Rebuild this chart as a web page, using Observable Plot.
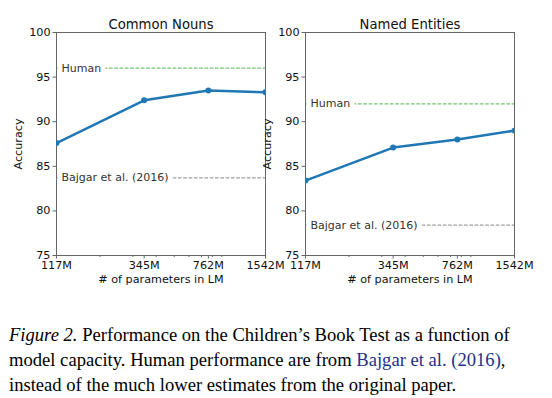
<!DOCTYPE html>
<html><head><meta charset="utf-8">
<script src="https://cdn.jsdelivr.net/npm/d3@7"></script>
<script src="https://cdn.jsdelivr.net/npm/@observablehq/plot@0.6"></script>
<style>
body{margin:0;background:#fff;width:552px;height:398px;overflow:hidden;position:relative;}
.panel{position:absolute;top:0;}
#p1{left:0}
#p2{left:249px}
#cap{position:absolute;left:9px;top:322px;white-space:nowrap;font-family:"Liberation Serif","Times New Roman",serif;font-size:18.6px;line-height:25px;color:#000;}
#cap .cite{color:#23308a;}
</style></head><body>
<div id="p1" class="panel"></div><div id="p2" class="panel"></div>
<div id="cap"><i>Figure 2.</i> Performance on the Children’s Book Test as a function of<br>model capacity. Human performance are from <span class="cite">Bajgar et al. (2016)</span>,<br>instead of the much lower estimates from the original paper.</div>
<script>
const paramLabels = ["117M", "345M", "762M", "1542M"];
const paramValues = [117, 345, 762, 1542];
const minorTicks = [200, 300, 400, 500, 600, 700, 800, 900];
const yTicks = [75, 80, 85, 90, 95, 100];
const titles = ["Common Nouns", "Named Entities"];
const commonNouns = [87.6, 92.4, 93.5, 93.3];
const namedEntities = [83.4, 87.1, 88.0, 89.0];
const humanScores = [96.0, 92.0];
const bajgarScores = [83.7, 78.4];

function panel(el, title, values, human, bajgar) {
  const data = paramValues.map((p, i) => ({p, v: values[i]}));
  const refs = [
    {y: human, label: "Human", color: "#74c474"},
    {y: bajgar, label: "Bajgar et al. (2016)", color: "#a0a0a0"}
  ];
  const chart = Plot.plot({
    width: 280, height: 300,
    marginLeft: 56, marginRight: 15, marginTop: 32, marginBottom: 45,
    style: {background: "transparent", overflow: "visible", fontFamily: "DejaVu Sans", fontSize: "11px", color: "#000"},
    x: {type: "log", domain: [117, 1542]},
    y: {domain: [75, 100]},
    marks: [
      Plot.ruleY(refs, {y: "y", stroke: "color", strokeWidth: 1.2, strokeDasharray: "3.7,1.6"}),
      Plot.text(refs, {y: "y", text: "label", frameAnchor: "left", dx: 5, textAnchor: "start", fill: "#333", stroke: "white", strokeWidth: 10, fontSize: 11}),
      Plot.frame({stroke: "#666", strokeWidth: 1}),
      Plot.axisY({ticks: yTicks, tickSize: 3.5, tickPadding: 2.5, stroke: "#666", fill: "#111", fontSize: 11.2, label: "Accuracy", labelAnchor: "center", labelOffset: 42, labelArrow: "none"}),
      Plot.axisX({ticks: minorTicks, tickSize: 2, stroke: "#666", tickFormat: () => "", label: null}),
      Plot.axisX({ticks: paramValues, tickSize: 3.5, tickPadding: 2, stroke: "#666", fill: "#111", fontSize: 11.2, tickFormat: d => paramLabels[paramValues.indexOf(d)], label: "# of parameters in LM", labelAnchor: "center", labelOffset: 27, labelArrow: "none"}),
      Plot.line(data, {x: "p", y: "v", stroke: "#1f77b4", strokeWidth: 2.5, clip: true}),
      Plot.dot(data, {x: "p", y: "v", fill: "#1f77b4", r: 3, clip: true}),
      Plot.text([title], {frameAnchor: "top", dy: -4, lineAnchor: "bottom", fontSize: 13.2, fill: "#111"})
    ]
  });
  document.getElementById(el).appendChild(chart);
}
panel("p1", titles[0], commonNouns, humanScores[0], bajgarScores[0]);
panel("p2", titles[1], namedEntities, humanScores[1], bajgarScores[1]);
</script>
</body></html>
